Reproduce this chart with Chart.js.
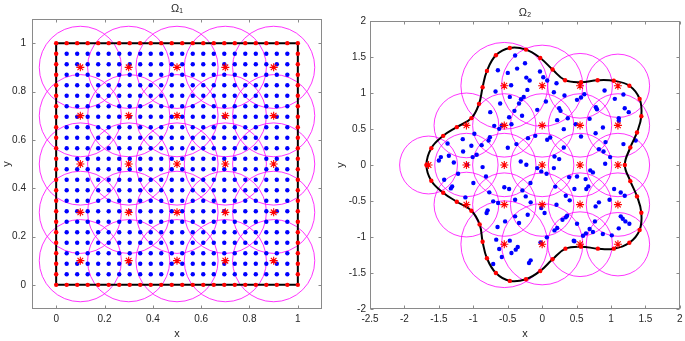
<!DOCTYPE html>
<html><head><meta charset="utf-8">
<script src="https://cdn.jsdelivr.net/npm/chart.js@4.4.1/dist/chart.umd.min.js"></script>
<style>
html,body{margin:0;padding:0;background:#fff;width:685px;height:341px;overflow:hidden;position:relative}
#c1{position:absolute;left:0;top:0}
#c2{position:absolute;left:334px;top:0}
</style></head><body>
<canvas id="c1" width="334" height="341"></canvas>
<canvas id="c2" width="351" height="341"></canvas>
<script>
// ---------- Panel 1 (unit square) ----------
const title1 = 'Ω₁';
const xTicks1 = [0, 0.2, 0.4, 0.6, 0.8, 1];
const yTicks1 = [0, 0.2, 0.4, 0.6, 0.8, 1];
const xTickLabels1 = ['0', '0.2', '0.4', '0.6', '0.8', '1'];
const yTickLabels1 = ['0', '0.2', '0.4', '0.6', '0.8', '1'];
const nodes1 = [0, 0.0435, 0.0870, 0.1304, 0.1739, 0.2174, 0.2609, 0.3043, 0.3478, 0.3913, 0.4348, 0.4783,
  0.5217, 0.5652, 0.6087, 0.6522, 0.6957, 0.7391, 0.7826, 0.8261, 0.8696, 0.9130, 0.9565, 1];
const centers1X = [0.1, 0.3, 0.5, 0.7, 0.9];
const centers1Y = [0.1, 0.3, 0.5, 0.7, 0.9];
const radius1 = 0.17;
const domain1X = [0, 1, 1, 0, 0];
const domain1Y = [0, 0, 1, 1, 0];

// ---------- Panel 2 (flower domain) ----------
const title2 = 'Ω₂';
const xTicks2 = [-2.5, -2, -1.5, -1, -0.5, 0, 0.5, 1, 1.5, 2];
const xTickLabels2 = ['-2.5', '-2', '-1.5', '-1', '-0.5', '0', '0.5', '1', '1.5', '2'];
const yTicks2 = [-2, -1.5, -1, -0.5, 0, 0.5, 1, 1.5, 2];
const yTickLabels2 = ['-2', '-1.5', '-1', '-0.5', '0', '0.5', '1', '1.5', '2'];
const boundary2X = [1.20, 1.28, 1.377, 1.44, 1.415, 1.266, 1.04, 0.805, 0.564, 0.333, 0.151, -0.028, -0.235, -0.47,
  -0.672, -0.802, -0.865, -0.917, -1.028, -1.24, -1.437, -1.61, -1.68, -1.61, -1.437, -1.24, -1.028, -0.908,
  -0.865, -0.802, -0.672, -0.47, -0.235, -0.028, 0.15, 0.338, 0.564, 0.809, 1.04, 1.266, 1.415, 1.44, 1.377, 1.28];
const boundary2Y = [0, 0.244, 0.452, 0.678, 0.918, 1.10, 1.17, 1.178, 1.15, 1.178, 1.326, 1.487, 1.603, 1.626,
  1.524, 1.307, 1.08, 0.849, 0.651, 0.526, 0.405, 0.234, 0, -0.219, -0.385, -0.51, -0.635, -0.825,
  -1.065, -1.296, -1.50, -1.61, -1.587, -1.472, -1.31, -1.162, -1.134, -1.162, -1.162, -1.079, -0.903, -0.663, -0.436, -0.224];
const interior2 = [
  [-0.643,1.316],[-0.499,1.279],[-0.364,1.339],[-0.249,1.413],[-0.393,1.520],[-0.230,1.214],[-0.182,1.173],
  [-0.215,1.043],[-0.451,1.108],[-0.677,1.020],[-0.610,0.854],[-0.470,0.946],[-0.307,0.914],[-0.268,0.946],
  [-0.336,0.854],[-0.403,0.752],[-0.754,0.734],[-0.480,0.664],[-0.292,0.683],[-0.446,0.567],[-0.586,0.549],
  [-0.624,0.502],[-0.696,0.544],[-0.759,0.387],[-0.778,0.341],[-0.879,0.276],[-1.028,0.267],[-1.153,0.359],
  [-0.985,0.433],[-1.374,0.299],[-1.148,0.188],[-0.499,0.239],[-0.374,0.290],[-0.206,0.373],
  [-0.032,1.298],[0.016,1.219],[0.073,1.173],[0.208,1.136],[0.170,1.011],[0.324,0.965],[0.506,0.905],
  [0.564,0.937],[0.612,0.983],[0.906,1.034],[1.055,0.919],[1.180,0.980],[1.199,0.789],[1.257,0.734],
  [0.054,0.882],[-0.071,0.766],[0.247,0.789],[0.266,0.752],[0.372,0.650],[0.487,0.567],[0.780,0.803],
  [0.795,0.775],[0.689,0.641],[0.882,0.521],[1.112,0.650],[1.112,0.613],[0.218,0.623],[0.117,0.382],
  [0.073,0.350],[-0.100,0.405],[0.314,0.498],[0.564,0.396],[0.920,0.318],[0.891,0.188],[1.180,0.290],
  [1.358,0.341],[0.314,0.244],[0.776,0.442],[0.824,0.220],
  [-1.471,0.110],[-1.500,0.063],[-1.355,0.128],[-1.091,0.003],[-1.009,0.110],[-0.951,0.142],[-0.865,-0.029],
  [-0.311,0.049],[-0.230,0.003],[-1.221,-0.122],[-1.423,-0.205],[-1.307,-0.297],[-1.326,-0.325],[-0.999,-0.251],
  [-0.816,-0.159],[-0.480,-0.334],[-0.768,-0.380],[-1.115,-0.450],[-0.711,-0.505],[-0.639,-0.528],[-0.393,-0.482],
  [-0.287,-0.353],[-0.239,-0.436],[-0.167,-0.519],[-0.792,-0.630],[-0.807,-0.667],[-0.538,-0.783],[-0.393,-0.713],
  [-0.336,-0.806],[-0.210,-0.690],[-0.648,-0.861],[-0.667,-1.037],[-0.624,-1.166],[-0.446,-1.222],[-0.384,-1.176],
  [-0.355,-1.139],[-0.711,-1.375],[-0.586,-1.277],[-0.167,-1.324],[-0.191,-1.361],
  [0.179,0.119],[0.247,0.082],[0.170,-0.043],[-0.071,-0.043],[-0.013,-0.089],[0.064,-0.122],[0.391,-0.168],
  [0.506,-0.159],[0.631,-0.196],[0.699,-0.075],[0.737,-0.103],[0.915,0.017],[0.987,0.110],[0.343,-0.427],
  [0.468,-0.334],[0.670,-0.297],[0.641,-0.334],[1.045,-0.334],[1.141,-0.381],[1.199,-0.427],[0.208,-0.552],
  [0.400,-0.491],[0.776,-0.575],[0.824,-0.519],[0.978,-0.482],[-0.013,-0.598],[0.035,-0.667],[0.295,-0.760],
  [0.343,-0.727],[0.362,-0.704],[0.506,-0.815],[0.766,-0.783],[1.141,-0.713],[1.170,-0.746],[1.209,-0.783],
  [1.266,-0.815],[0.179,-0.908],[0.218,-0.875],[0.689,-0.889],[0.737,-0.931],[1.112,-0.880],[0.593,-0.982],
  [-0.023,-1.074],[0.468,-1.060],
  [-0.470,-1.051],[0.068,-1.005],[0.458,-1.051],[0.636,-0.949],[0.881,-0.959],[1.011,-0.977],[0.190,-0.300],
  [-0.170,-0.250],[-0.550,-0.310],[-1.283,0.035]
];
const centers2X = [-0.55, 0, 0.55, 1.1, -1.1, -0.55, 0, 0.55, 1.1, -1.65, -1.1, -0.55, 0, 0.55, 1.1,
  -1.1, -0.55, 0, 0.55, 1.1, -0.55, 0, 0.55, 1.1];
const centers2Y = [1.1, 1.1, 1.1, 1.1, 0.55, 0.55, 0.55, 0.55, 0.55, 0, 0, 0, 0, 0, 0,
  -0.55, -0.55, -0.55, -0.55, -0.55, -1.1, -1.1, -1.1, -1.1];
const radii2 = [0.63, 0.59, 0.47, 0.46, 0.47, 0.46, 0.46, 0.46, 0.46, 0.42, 0.46, 0.46, 0.46, 0.46, 0.46,
  0.47, 0.46, 0.46, 0.46, 0.46, 0.63, 0.59, 0.47, 0.46];

// ---------- Styles ----------
const RED = '#ff0000', BLUE = '#0000ff', MAGENTA = '#ff00ff', TXT = '#262626', BOX = '#8a8a8a';
Chart.defaults.font.family = '"Liberation Sans", Arial, Helvetica, sans-serif';
Chart.defaults.color = TXT;

// ---------- Build point sets ----------
const interior1 = [], bnd1 = [];
nodes1.forEach(yv => nodes1.forEach(xv => {
  const onB = (xv === 0 || xv === 1 || yv === 0 || yv === 1);
  (onB ? bnd1 : interior1).push({x: xv, y: yv});
}));
const centers1 = [];
centers1Y.forEach(yv => centers1X.forEach(xv => centers1.push({x: xv, y: yv})));
const domain1 = domain1X.map((v, i) => ({x: v, y: domain1Y[i]}));

const bnd2 = boundary2X.map((v, i) => ({x: v, y: boundary2Y[i]}));
const n2 = bnd2.length;
const loop2 = [bnd2[n2 - 1], ...bnd2, bnd2[0], bnd2[1]];
const int2 = interior2.map(p => ({x: p[0], y: p[1]}));
const centers2 = centers2X.map((v, i) => ({x: v, y: centers2Y[i]}));

function pxRadius(ctx, r) {
  const s = ctx.chart.scales.x;
  return Math.abs(s.getPixelForValue(r) - s.getPixelForValue(0));
}

const axesBox = {
  id: 'axesBox',
  afterDraw(chart) {
    const {ctx, chartArea: a, scales} = chart;
    ctx.save();
    ctx.strokeStyle = BOX; ctx.lineWidth = 1;
    const L = Math.round(a.left) + 0.5, R = Math.round(a.right) - 0.5;
    const T = Math.round(a.top) + 0.5, B = Math.round(a.bottom) - 0.5;
    ctx.strokeRect(L, T, R - L, B - T);
    const tl = 3;
    ctx.beginPath();
    scales.x.ticks.forEach(t => {
      const p = Math.round(scales.x.getPixelForValue(t.value)) + 0.5;
      ctx.moveTo(p, B); ctx.lineTo(p, B - tl);
      ctx.moveTo(p, T); ctx.lineTo(p, T + tl);
    });
    scales.y.ticks.forEach(t => {
      const p = Math.round(scales.y.getPixelForValue(t.value)) + 0.5;
      ctx.moveTo(L, p); ctx.lineTo(L + tl, p);
      ctx.moveTo(R, p); ctx.lineTo(R - tl, p);
    });
    ctx.stroke();
    ctx.restore();
  }
};

function axis(min, max, ticks, labels, title, isX, size, pad) {
  return {
    type: 'linear', min, max, bounds: 'data',
    grid: {display: false, drawTicks: false},
    border: {display: false},
    afterBuildTicks: s => { s.ticks = ticks.map(v => ({value: v})); },
    ticks: {callback: (v, i) => labels[i], padding: pad, font: {size: 10}, color: TXT,
      maxRotation: 0, minRotation: 0, autoSkip: false},
    title: {display: true, text: title, font: {size: 11}, color: TXT, padding: 0},
    afterFit: s => {
      if (isX) { s.height = size; s.paddingLeft = 0; s.paddingRight = 0; }
      else { s.width = size; s.paddingTop = 0; s.paddingBottom = 0; }
    }
  };
}

function makeChart(id, cfg) {
  return new Chart(document.getElementById(id), {
    type: 'scatter',
    data: {datasets: cfg.datasets},
    options: {
      responsive: false, animation: false, events: [],
      layout: {padding: cfg.padding},
      scales: {x: cfg.x, y: cfg.y},
      plugins: {
        legend: {display: false}, tooltip: {enabled: false},
        title: {display: true, text: cfg.title, fullSize: false, color: TXT,
          font: {size: 11, weight: 'normal'}, padding: cfg.titlePad}
      }
    },
    plugins: [axesBox]
  });
}

makeChart('c1', {
  title: title1,
  titlePad: {top: 2.6, bottom: 3.2},
  padding: {left: 0, right: 12, top: 0, bottom: 0},
  x: axis(-0.1, 1.1, xTicks1, xTickLabels1, 'x', true, 32, 4),
  y: axis(-0.1, 1.1, yTicks1, yTickLabels1, 'y', false, 32, 6),
  datasets: [
    {label: 'centers', data: centers1, pointStyle: 'star', pointRadius: 4, pointBorderColor: RED,
      pointBackgroundColor: RED, pointBorderWidth: 1.1, order: 0},
    {label: 'boundary nodes', data: bnd1, pointRadius: 2.2, pointBackgroundColor: RED, pointBorderWidth: 0, order: 1},
    {label: 'boundary', data: domain1, showLine: true, borderColor: '#000', borderWidth: 2, pointRadius: 0, order: 2},
    {label: 'interior nodes', data: interior1, pointRadius: 2.2, pointBackgroundColor: BLUE, pointBorderWidth: 0, order: 3},
    {label: 'supports', data: centers1, pointRadius: ctx => pxRadius(ctx, radius1),
      pointBackgroundColor: 'rgba(0,0,0,0)', pointBorderColor: MAGENTA, pointBorderWidth: 0.8, order: 4}
  ]
});

makeChart('c2', {
  title: title2,
  titlePad: {top: 5.9, bottom: 1.9},
  padding: {left: 0, right: 2.5, top: 0, bottom: 0},
  x: axis(-2.5, 2, xTicks2, xTickLabels2, 'x', true, 32, 4),
  y: axis(-2, 2, yTicks2, yTickLabels2, 'y', false, 36, 4),
  datasets: [
    {label: 'centers', data: centers2, pointStyle: 'star', pointRadius: 4, pointBorderColor: RED,
      pointBackgroundColor: RED, pointBorderWidth: 1.1, order: 0},
    {label: 'boundary nodes', data: bnd2, pointRadius: 2.2, pointBackgroundColor: RED, pointBorderWidth: 0, order: 1},
    {label: 'boundary', data: loop2, showLine: true, borderColor: '#000', borderWidth: 2, pointRadius: 0,
      tension: 0.4, order: 2},
    {label: 'interior nodes', data: int2, pointRadius: 2.2, pointBackgroundColor: BLUE, pointBorderWidth: 0, order: 3},
    {label: 'supports', data: centers2, pointRadius: ctx => pxRadius(ctx, radii2[ctx.dataIndex]),
      pointBackgroundColor: 'rgba(0,0,0,0)', pointBorderColor: MAGENTA, pointBorderWidth: 0.8, order: 4}
  ]
});
</script></body></html>
